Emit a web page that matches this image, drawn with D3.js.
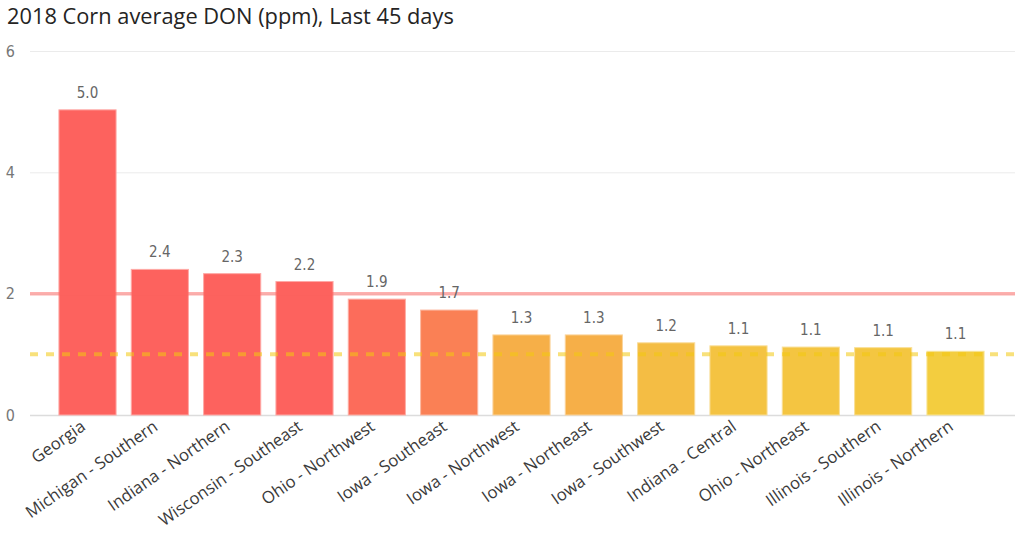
<!DOCTYPE html>
<html>
<head>
<meta charset="utf-8">
<script src="https://cdn.jsdelivr.net/npm/d3@7"></script>
<style>
  html, body { margin: 0; padding: 0; background: #fff; }
  svg { display: block; font-family: "Segoe UI", "Open Sans", "Noto Sans", sans-serif; }
</style>
</head>
<body>
<svg id="chart" width="1024" height="550"></svg>
<script>
const title = "2018 Corn average DON (ppm), Last 45 days";
const categories = ["Georgia", "Michigan - Southern", "Indiana - Northern", "Wisconsin - Southeast",
  "Ohio - Northwest", "Iowa - Southeast", "Iowa - Northwest", "Iowa - Northeast", "Iowa - Southwest",
  "Indiana - Central", "Ohio - Northeast", "Illinois - Southern", "Illinois - Northern"];
const values = [5.03, 2.40, 2.33, 2.20, 1.91, 1.73, 1.32, 1.32, 1.19, 1.14, 1.12, 1.11, 1.05];
const yTicks = [0, 2, 4, 6];
const redLineValue = 2;
const yellowLineValue = 1;

(function () {
const svg = d3.select("#chart");
const mLeft = 30, mRight = 1013, mTop = 51, mBottom = 415, gridEnd = 1015;
const narrow = "\"Liberation Sans Narrow\", \"DejaVu Sans Condensed\", Roboto, sans-serif";

const x = d3.scaleBand().domain(categories).range([mLeft, mRight]).paddingInner(0.21).paddingOuter(0.4);
const y = d3.scaleLinear().domain([0, 6]).range([mBottom, mTop]);
const color = d3.scaleLinear().domain([1.05, 2.0]).range(["#F3CD3F", "#FD625E"]).clamp(true);

// title
svg.append("text").attr("x", 7).attr("y", 24).attr("font-size", 21.8).attr("fill", "#252423").text(title);

// gridlines
const yAxis = d3.axisLeft(y).tickValues(yTicks).tickSize(-(gridEnd - mLeft)).tickFormat(d3.format("d")).tickPadding(15);
const gy = svg.append("g").attr("transform", `translate(${mLeft},0)`).call(yAxis);
gy.select(".domain").remove();
gy.selectAll(".tick line").attr("stroke", d => d === 0 ? "#dcdcdc" : "#ebebeb").attr("stroke-width", d => d === 0 ? 1.5 : 1);
gy.selectAll(".tick text").attr("font-size", 16).attr("fill", "#777").attr("font-family", narrow);

// bars
svg.append("g").selectAll("rect").data(values).join("rect")
  .attr("x", (d, i) => x(categories[i]))
  .attr("y", d => y(d))
  .attr("width", x.bandwidth())
  .attr("height", d => y(0) - y(d))
  .attr("fill", d => color(d))
  .attr("stroke", d => d3.interpolateRgb(color(d), "#fff")(0.45))
  .attr("stroke-width", 1);

// reference lines
svg.append("line").attr("x1", mLeft).attr("x2", gridEnd).attr("y1", y(redLineValue)).attr("y2", y(redLineValue))
  .attr("stroke", "#FD625E").attr("stroke-opacity", 0.5).attr("stroke-width", 3.5);
svg.append("line").attr("x1", mLeft).attr("x2", gridEnd).attr("y1", y(yellowLineValue)).attr("y2", y(yellowLineValue))
  .attr("stroke", "#F2C80F").attr("stroke-opacity", 0.55).attr("stroke-width", 4).attr("stroke-dasharray", "8,8");

// data labels
svg.append("g").selectAll("text").data(values).join("text")
  .attr("x", (d, i) => x(categories[i]) + x.bandwidth() / 2)
  .attr("y", d => y(d) - 12)
  .attr("text-anchor", "middle")
  .attr("font-size", 15)
  .attr("font-family", narrow)
  .attr("fill", "#666")
  .text(d => d3.format(".1f")(d));

// x labels
svg.append("g").selectAll("text").data(categories).join("text")
  .attr("transform", d => `translate(${x(d) + x.bandwidth() / 2 - 1},${mBottom + 14}) rotate(-35)`)
  .attr("text-anchor", "end")
  .attr("font-size", 16.7)
  .attr("fill", "#3a3a3a")
  .text(d => d);
})();
</script>
</body>
</html>
